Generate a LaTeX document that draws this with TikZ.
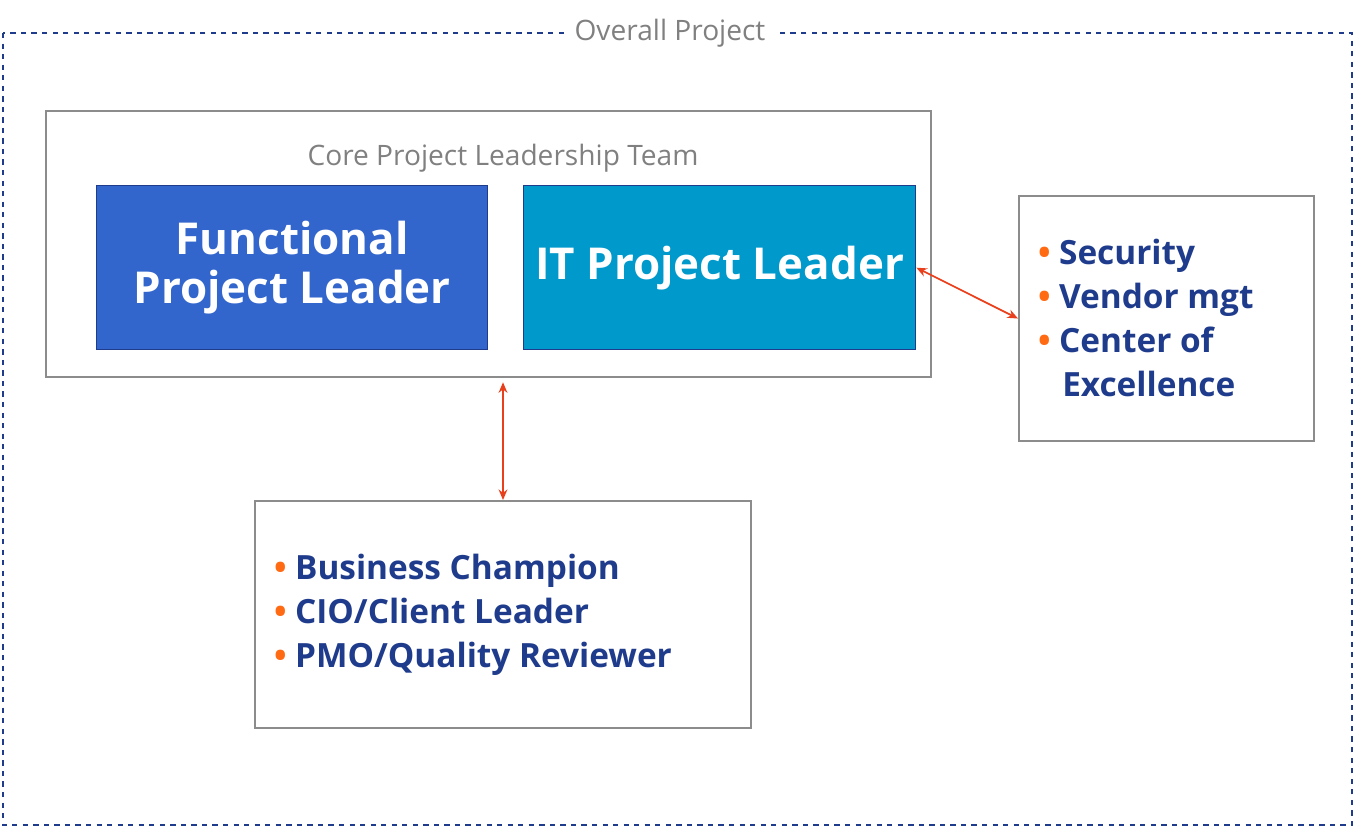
\documentclass[tikz,border=0pt]{standalone}
\usepackage{fontspec}
\setmainfont{Open Sans}
\usetikzlibrary{arrows.meta}
\definecolor{navy}{HTML}{1F3C8C}
\definecolor{bul}{HTML}{FF6A13}
\definecolor{arr}{HTML}{E8401C}
\definecolor{fblue}{HTML}{3366CC}
\definecolor{iblue}{HTML}{0099CC}
\definecolor{gtxt}{HTML}{808080}
\tikzset{
 px/.style={x=0.02cm,y=-0.02cm},
 graybox/.style={draw=gray!90,line width=1.2pt},
 lead/.style={draw=navy,line width=0.8pt,text=white,font=\fontsize{25}{30}\selectfont\bfseries,align=center},
 lbl/.style={text=gtxt,font=\fontsize{16}{19}\selectfont},
 blist/.style={text=navy,font=\fontsize{19}{25}\selectfont\bfseries,align=left,anchor=west},
 conn/.style={arr,line width=1pt,{Stealth[length=6pt,width=5pt]}-{Stealth[length=6pt,width=5pt]}}
}
\newcommand{\bu}{{\color{bul}\textbullet}\hspace{0.25em}}
\begin{document}
\begin{tikzpicture}[px]
\useasboundingbox (0,0) rectangle (1354,827);
\draw[navy,dashed,line width=0.9pt] (3,33) rectangle (1352,825);
\node[lbl,fill=white,inner xsep=6pt] (ov) at (670,33) {Overall Project};
\draw[graybox] (46,111) rectangle (931,377);
\coordinate (coreb) at (503,377);
\node[lbl] (core) at (503,158) {Core Project Leadership Team};
\node[lead,fill=fblue,minimum width=7.82cm,minimum height=3.28cm,anchor=north west] (fpl) at (96,185) {Functional\\[-2pt]Project Leader};
\node[lead,fill=iblue,minimum width=7.84cm,minimum height=3.28cm,anchor=north west] (itl) at (523,185) {IT Project Leader};
\node[graybox,minimum width=5.9cm,minimum height=4.9cm,anchor=north west] (rb) at (1018,195) {};
\node[blist] (rt) at (1032,318) {\bu Security\\\bu Vendor mgt\\\bu Center of\\\hspace{0.72em}Excellence};
\node[graybox,minimum width=9.92cm,minimum height=4.54cm,anchor=north west] (bb) at (254,500) {};
\node[blist] (bt) at (268,615) {\bu Business Champion\\\bu CIO/Client Leader\\\bu PMO/Quality Reviewer};
\draw[conn] (itl.east) -- (rb.west);
\draw[conn] ([yshift=-3pt]coreb) -- (bb.north -| coreb);
\end{tikzpicture}
\end{document}
